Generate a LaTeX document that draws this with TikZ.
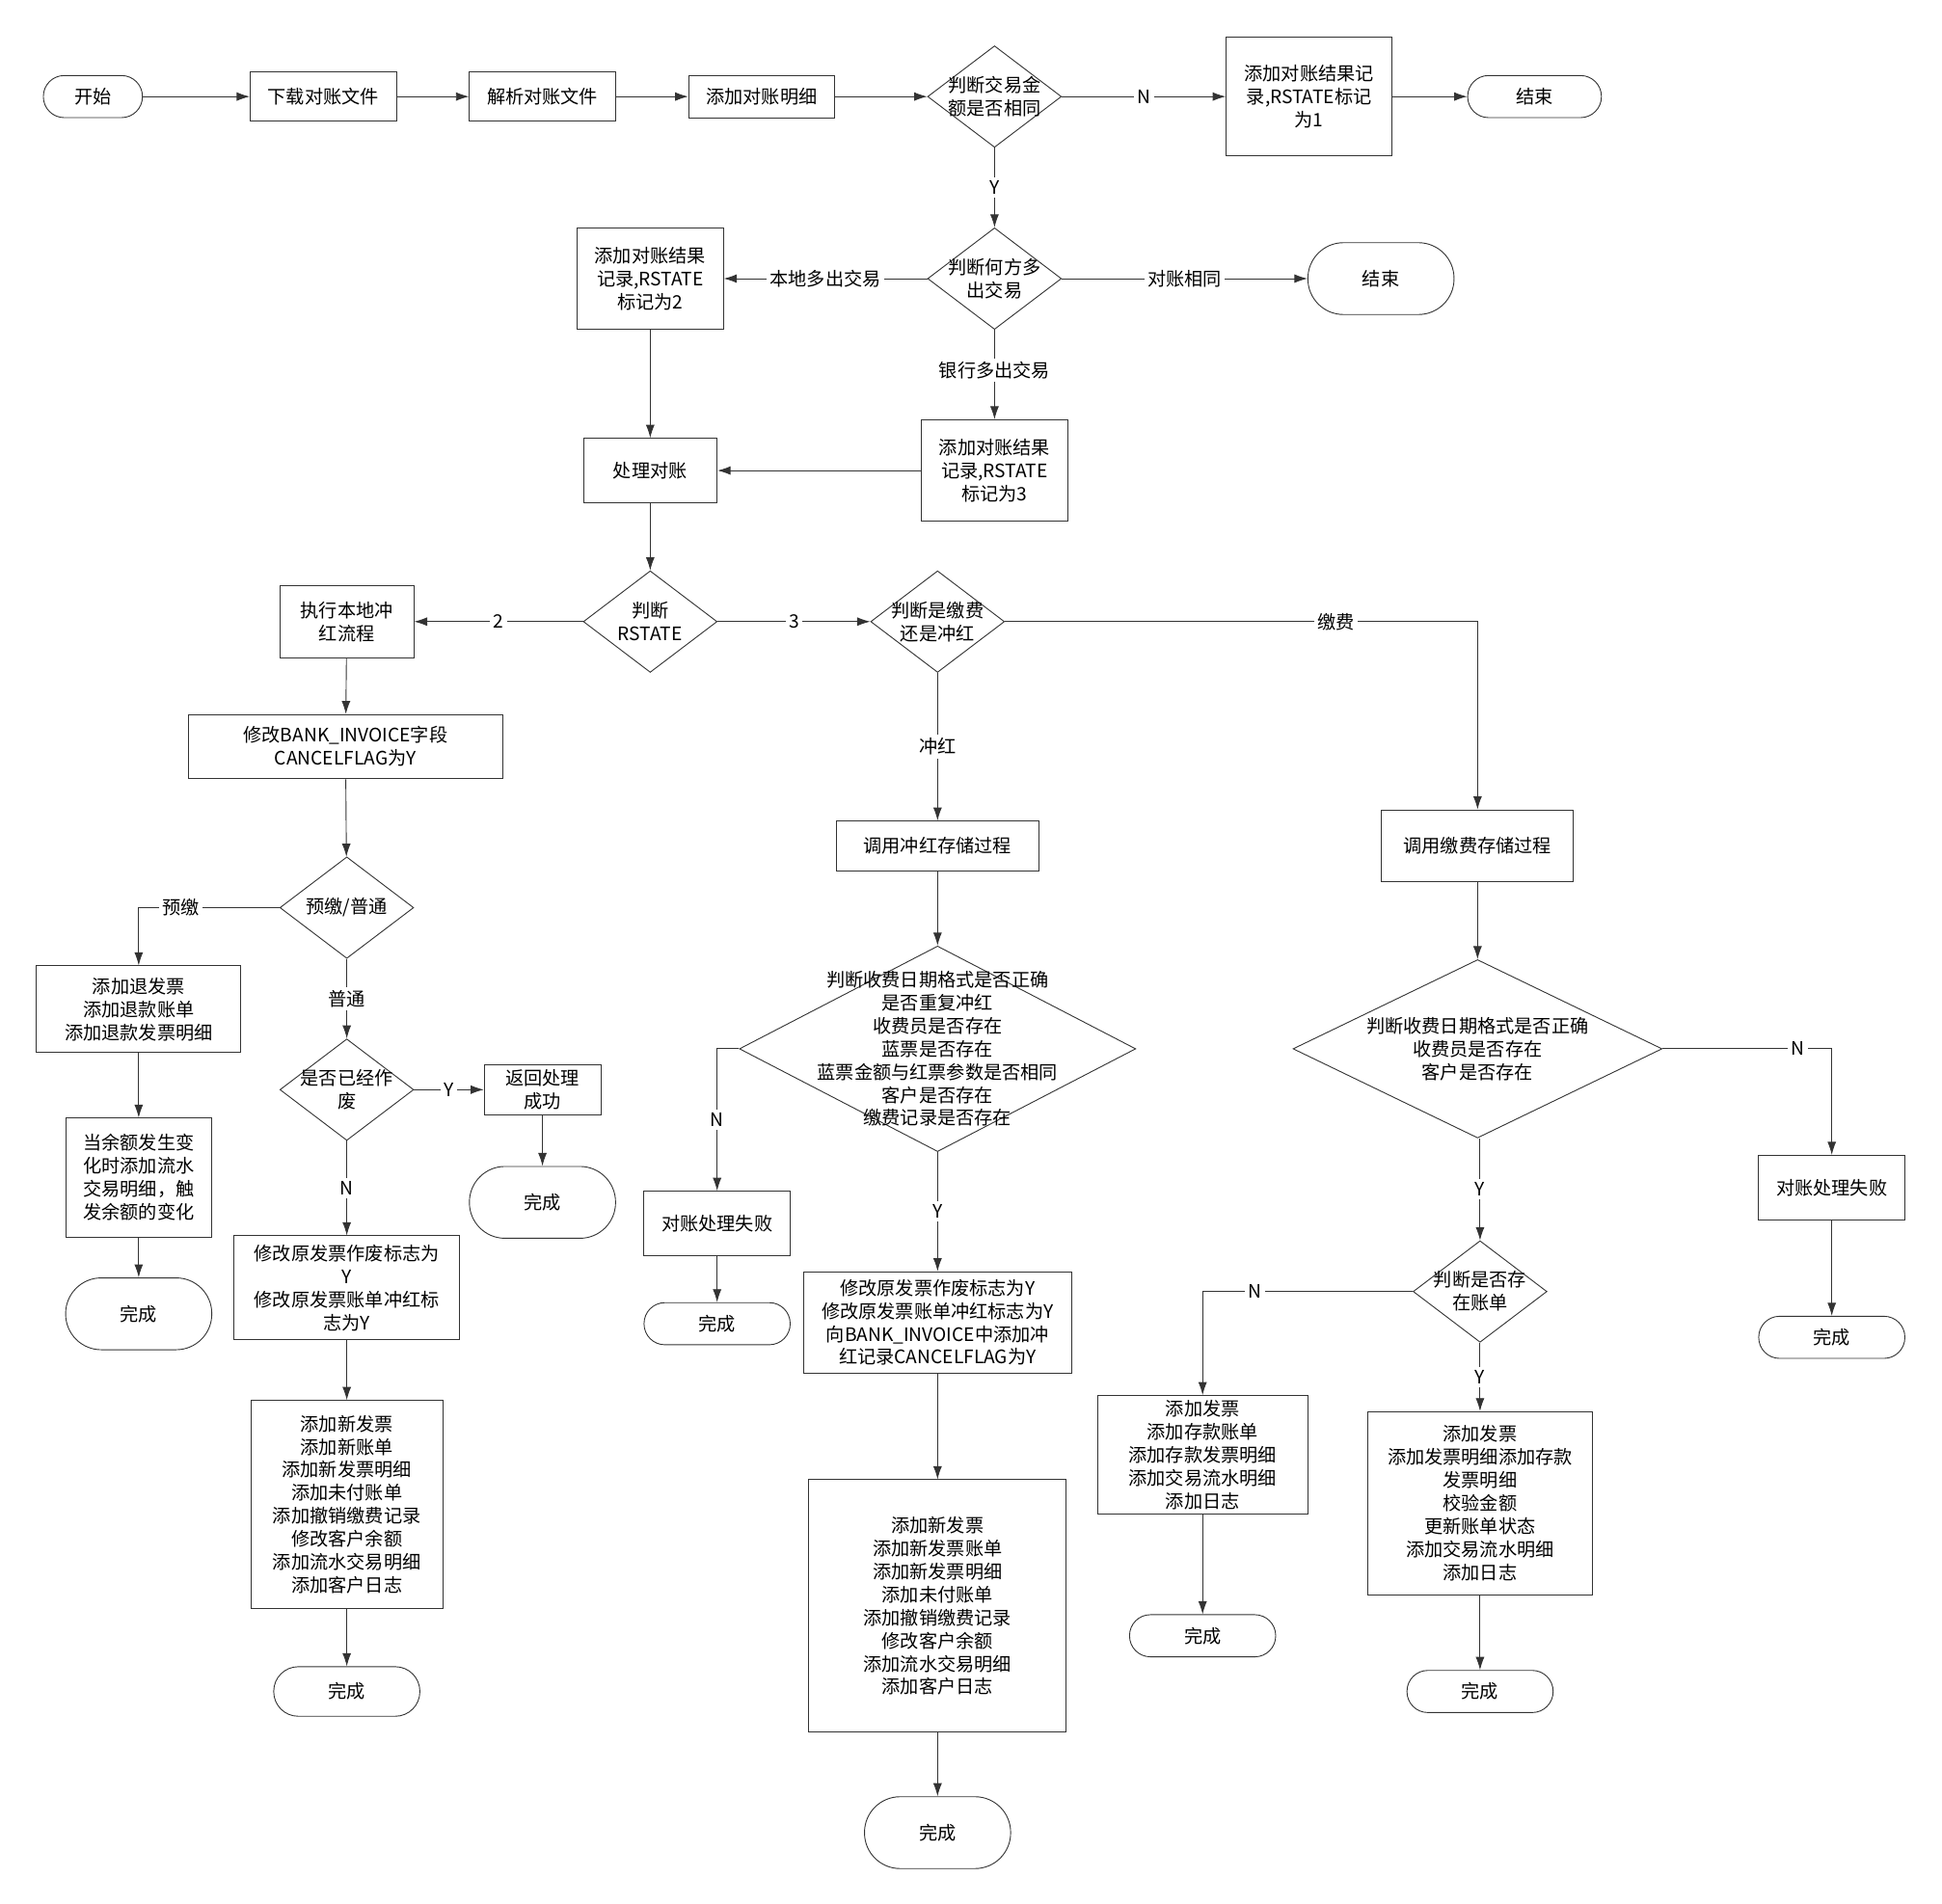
\documentclass[tikz,border=0pt]{standalone}
\usepackage{fontspec}
\setmainfont{Noto Sans CJK SC}
\usetikzlibrary{shapes.geometric,arrows.meta}

\begin{document}
\begin{tikzpicture}[x=0.02cm, y=-0.02cm, font=\fontsize{8.5}{10.6}\selectfont]

\tikzstyle{kasse}=[rectangle, draw=black!80, fill=white, align=center, inner sep=1pt, minimum width=#1*0.02cm]
\tikzstyle{slutt}=[rectangle, rounded corners=#1*0.0099cm, draw=black!80, fill=white, minimum width=118*0.02cm, minimum height=#1*0.02cm]
\tikzstyle{rute}=[diamond, draw=black!80, fill=white, inner sep=0pt]
\tikzstyle{pil}=[-{Latex[length=6pt,width=4pt]}, draw=black!80]
\tikzstyle{merke}=[fill=white, inner sep=1.5pt]

\fill[white] (0,0) rectangle (1568,1537);

% top row
\node[slutt=34, minimum width=80*0.02cm] (start) at (75,78) {开始};
\node[kasse=118, minimum height=40*0.02cm] (last) at (261,78) {下载对账文件};
\node[kasse=118, minimum height=40*0.02cm] (les) at (438,78) {解析对账文件};
\node[kasse=118, minimum height=34*0.02cm] (legg) at (615,78) {添加对账明细};
\node[rute, minimum width=108*0.02cm, minimum height=82*0.02cm] (sum) at (803,78) {};
\node[align=center] at (sum) {判断交易金\\额是否相同};
\node[kasse=134, minimum height=96*0.02cm] (res1) at (1057,78) {添加对账结果记\\录,RSTATE标记\\为1};
\node[slutt=34, minimum width=108*0.02cm] (slutt1) at (1239,78) {结束};

% which side
\node[rute, minimum width=108*0.02cm, minimum height=82*0.02cm] (side) at (803,225) {};
\node[align=center] at (side) {判断何方多\\出交易};
\node[kasse=118, minimum height=82*0.02cm] (res2) at (525,225) {添加对账结果\\记录,RSTATE\\标记为2};
\node[slutt=58] (slutt2) at (1115,225) {结束};
\node[kasse=118, minimum height=82*0.02cm] (res3) at (803,380) {添加对账结果\\记录,RSTATE\\标记为3};
\node[kasse=108, minimum height=52*0.02cm] (beh) at (525,380) {处理对账};
\node[rute, minimum width=108*0.02cm, minimum height=82*0.02cm] (rst) at (525,502) {};
\node[align=center] at (rst) {判断\\RSTATE};

% left branch
\node[kasse=108, minimum height=58*0.02cm] (lokal) at (280,502) {执行本地冲\\红流程};
\node[kasse=254, minimum height=52*0.02cm] (endre) at (279,603) {修改BANK\_INVOICE字段\\CANCELFLAG为Y};
\node[rute, minimum width=108*0.02cm, minimum height=82*0.02cm] (type) at (280,733) {};
\node at (type) {预缴/普通};
\node[kasse=165, minimum height=70*0.02cm] (retur) at (112,815) {添加退发票\\添加退款账单\\添加退款发票明细};
\node[kasse=118, minimum height=96*0.02cm] (saldo) at (112,951) {当余额发生变\\化时添加流水\\交易明细，触\\发余额的变化};
\node[slutt=58] (ferdig1) at (112,1061) {完成};
\node[rute, minimum width=108*0.02cm, minimum height=82*0.02cm] (zf) at (280,880) {};
\node[align=center] at (zf) {是否已经作\\废};
\node[kasse=94, minimum height=40*0.02cm] (ok) at (438,880) {返回处理\\成功};
\node[slutt=58] (ferdig2) at (438,971) {完成};
\node[kasse=182, minimum height=84*0.02cm] (zfmerk) at (280,1040) {修改原发票作废标志为\\Y\\修改原发票账单冲红标\\志为Y};
\node[kasse=155, minimum height=168*0.02cm] (ny1) at (280,1215) {添加新发票\\添加新账单\\添加新发票明细\\添加未付账单\\添加撤销缴费记录\\修改客户余额\\添加流水交易明细\\添加客户日志};
\node[slutt=40] (ferdig3) at (280,1366) {完成};

% middle branch
\node[rute, minimum width=108*0.02cm, minimum height=82*0.02cm] (jc) at (757,502) {};
\node[align=center] at (jc) {判断是缴费\\还是冲红};
\node[kasse=164, minimum height=40*0.02cm] (chong) at (757,683) {调用冲红存储过程};
\node[rute, minimum width=320*0.02cm, minimum height=166*0.02cm] (sjekk1) at (757,847) {};
\node[align=center] at (sjekk1) {判断收费日期格式是否正确\\是否重复冲红\\收费员是否存在\\蓝票是否存在\\蓝票金额与红票参数是否相同\\客户是否存在\\缴费记录是否存在};
\node[kasse=118, minimum height=52*0.02cm] (feil1) at (579,988) {对账处理失败};
\node[slutt=34] (ferdig4) at (579,1069) {完成};
\node[kasse=216, minimum height=82*0.02cm] (zf2) at (757,1068) {修改原发票作废标志为Y\\修改原发票账单冲红标志为Y\\向BANK\_INVOICE中添加冲\\红记录CANCELFLAG为Y};
\node[kasse=208, minimum height=204*0.02cm] (ny2) at (757,1297) {添加新发票\\添加新发票账单\\添加新发票明细\\添加未付账单\\添加撤销缴费记录\\修改客户余额\\添加流水交易明细\\添加客户日志};
\node[slutt=58] (ferdig5) at (757,1480) {完成};

% right branch
\node[kasse=155, minimum height=58*0.02cm] (jiao) at (1193,683) {调用缴费存储过程};
\node[rute, minimum width=298*0.02cm, minimum height=144*0.02cm] (sjekk2) at (1193,847) {};
\node[align=center] at (sjekk2) {判断收费日期格式是否正确\\收费员是否存在\\客户是否存在};
\node[kasse=118, minimum height=52*0.02cm] (feil2) at (1479,959) {对账处理失败};
\node[slutt=34] (ferdig6) at (1479,1080) {完成};
\node[rute, minimum width=108*0.02cm, minimum height=82*0.02cm] (konto) at (1195,1043) {};
\node[align=center] at (konto) {判断是否存\\在账单};
\node[kasse=170, minimum height=96*0.02cm] (innskudd) at (971,1175) {添加发票\\添加存款账单\\添加存款发票明细\\添加交易流水明细\\添加日志};
\node[slutt=34] (ferdig7) at (971,1321) {完成};
\node[kasse=182, minimum height=148*0.02cm] (faktura) at (1195,1214) {添加发票\\添加发票明细添加存款\\发票明细\\校验金额\\更新账单状态\\添加交易流水明细\\添加日志};
\node[slutt=34] (ferdig8) at (1195,1366) {完成};

% arrows
\draw[pil] (start) -- (last);
\draw[pil] (last) -- (les);
\draw[pil] (les) -- (legg);
\draw[pil] (legg) -- (sum);
\draw[pil] (sum) -- node[merke]{N} (res1);
\draw[pil] (res1) -- (slutt1);
\draw[pil] (sum) -- node[merke]{Y} (side);
\draw[pil] (side) -- node[merke]{本地多出交易} (res2);
\draw[pil] (side) -- node[merke]{对账相同} (slutt2);
\draw[pil] (side) -- node[merke, pos=0.45]{银行多出交易} (res3);
\draw[pil] (res2) -- (beh);
\draw[pil] (res3) -- (beh);
\draw[pil] (beh) -- (rst);
\draw[pil] (rst) -- node[merke]{2} (lokal);
\draw[pil] (rst) -- node[merke]{3} (jc);
\draw[pil] (lokal) -- (endre);
\draw[pil] (endre) -- (type);
\draw[pil] (type.west) -- node[merke, pos=0.7]{预缴} (112,733) -- (retur);
\draw[pil] (retur) -- (saldo);
\draw[pil] (saldo) -- (ferdig1);
\draw[pil] (type) -- node[merke]{普通} (zf);
\draw[pil] (zf) -- node[merke]{Y} (ok);
\draw[pil] (ok) -- (ferdig2);
\draw[pil] (zf) -- node[merke]{N} (zfmerk);
\draw[pil] (zfmerk) -- (ny1);
\draw[pil] (ny1) -- (ferdig3);
\draw[pil] (jc) -- node[merke]{冲红} (chong);
\draw[pil] (chong) -- (sjekk1);
\draw[pil] (sjekk1.west) -- (579,847) -- node[merke]{N} (feil1);
\draw[pil] (feil1) -- (ferdig4);
\draw[pil] (sjekk1) -- node[merke]{Y} (zf2);
\draw[pil] (zf2) -- (ny2);
\draw[pil] (ny2) -- (ferdig5);
\draw[pil] (jc.east) -- node[merke, pos=0.7]{缴费} (1193,502) -- (jiao);
\draw[pil] (jiao) -- (sjekk2);
\draw[pil] (sjekk2.south) ++(2,0) -- node[merke]{Y} (konto);
\draw[pil] (sjekk2.east) -- node[merke, pos=0.8]{N} (1479,847) -- (feil2);
\draw[pil] (feil2) -- (ferdig6);
\draw[pil] (konto.west) -- node[merke, pos=0.75]{N} (971,1043) -- (innskudd);
\draw[pil] (innskudd) -- (ferdig7);
\draw[pil] (konto) -- node[merke]{Y} (faktura);
\draw[pil] (faktura) -- (ferdig8);

\useasboundingbox (0,0) rectangle (1568,1537);
\end{tikzpicture}
\end{document}
